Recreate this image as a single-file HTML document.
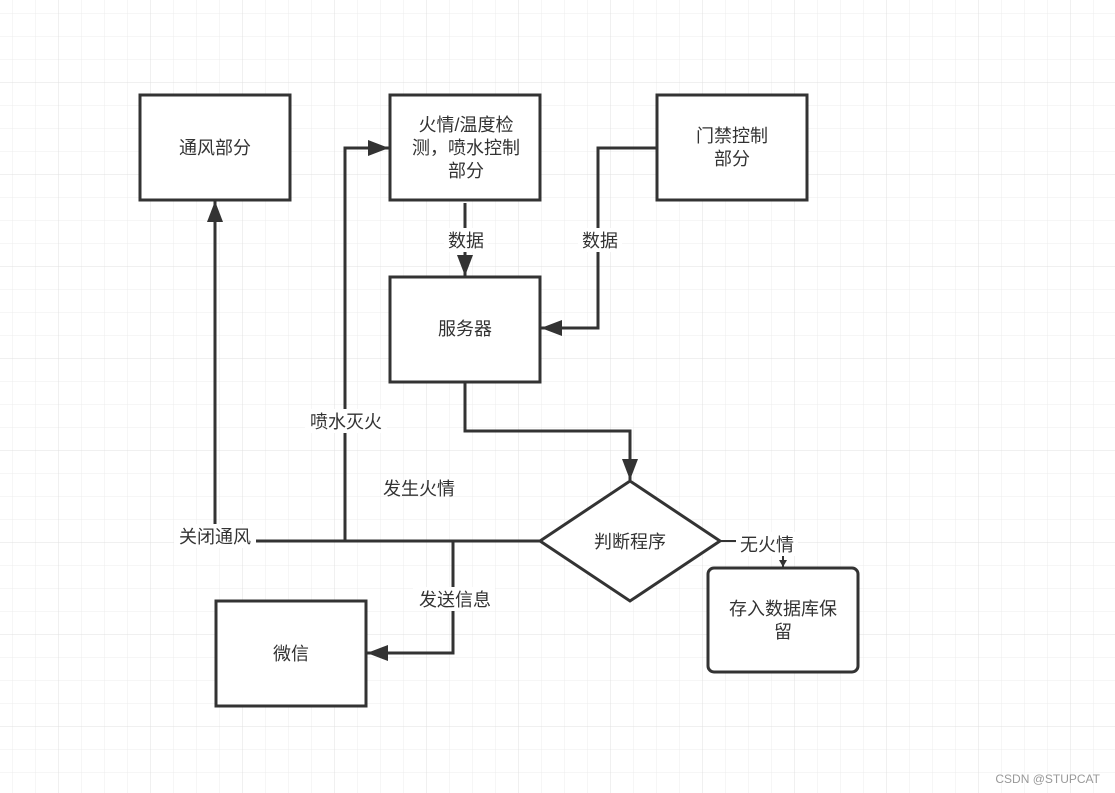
<!DOCTYPE html>
<html><head><meta charset="utf-8"><style>
html,body{margin:0;padding:0;width:1115px;height:793px;overflow:hidden;background:#fff}
svg{display:block}
text{font-family:"Liberation Sans","Noto Sans CJK SC",sans-serif;font-size:18px;fill:#333}
</style></head><body>
<svg width="1115" height="793" xmlns="http://www.w3.org/2000/svg">
<defs>
<pattern id="g" x="12" y="13" width="23" height="23" patternUnits="userSpaceOnUse"><path d="M0 0V23M0 0H23" stroke="#ececec" stroke-width="1" fill="none"/></pattern>
<pattern id="G" x="58" y="82" width="92" height="92" patternUnits="userSpaceOnUse"><path d="M0 0V92M0 0H92" stroke="#e0e0e0" stroke-width="1" fill="none"/></pattern>
<marker id="s" markerWidth="8" markerHeight="8" refX="7" refY="4" orient="auto" markerUnits="userSpaceOnUse"><path d="M0 0L7 4L0 8Z" fill="#333"/></marker>
<marker id="b" markerWidth="22" markerHeight="16" refX="21" refY="8" orient="auto" markerUnits="userSpaceOnUse"><path d="M0 0L21 8L0 16Z" fill="#333"/></marker>
</defs>
<rect width="1115" height="793" fill="url(#g)"/>
<rect width="1115" height="793" fill="url(#G)"/>
<g fill="#fff" stroke="#333" stroke-width="3">
<rect x="140" y="95" width="150" height="105"/>
<rect x="390" y="95" width="150" height="105"/>
<rect x="657" y="95" width="150" height="105"/>
<rect x="390" y="277" width="150" height="105"/>
<rect x="216" y="601" width="150" height="105"/>
<rect x="708" y="568" width="150" height="104" rx="6"/>
<path d="M540 541L630 481L720 541L630 601Z"/>
</g>
<g fill="none" stroke="#333" stroke-width="3">
<path d="M465 203V276" marker-end="url(#b)"/>
<path d="M657 148H598V328H541" marker-end="url(#b)"/>
<path d="M465 382V431H630V480" marker-end="url(#b)"/>
<path d="M540 541H345V148H389" marker-end="url(#b)"/>
<path d="M345 541H215V201" marker-end="url(#b)"/>
<path d="M453 541V653H367" marker-end="url(#b)"/>
<path d="M720 541H783V567" marker-end="url(#s)" stroke-width="2"/>
</g>
<g fill="#fff">
<rect x="444" y="228" width="44" height="24"/>
<rect x="578" y="228" width="44" height="24"/>
<rect x="305" y="409" width="82" height="24"/>
<rect x="174" y="524" width="82" height="24"/>
<rect x="413" y="587" width="82" height="24"/>
<rect x="736" y="532" width="62" height="24"/>
</g>
<g text-anchor="middle">
<text x="215" y="154">通风部分</text>
<text x="466" y="131">火情/温度检</text>
<text x="466" y="154">测，喷水控制</text>
<text x="466" y="177">部分</text>
<text x="732" y="142">门禁控制</text>
<text x="732" y="165">部分</text>
<text x="465" y="335">服务器</text>
<text x="291" y="660">微信</text>
<text x="783" y="615">存入数据库保</text>
<text x="783" y="638">留</text>
<text x="630" y="548">判断程序</text>
<text x="466" y="247">数据</text>
<text x="600" y="247">数据</text>
<text x="346" y="428">喷水灭火</text>
<text x="419" y="495">发生火情</text>
<text x="215" y="543">关闭通风</text>
<text x="455" y="606">发送信息</text>
<text x="767" y="551">无火情</text>
</g>
<text x="1100" y="783" text-anchor="end" style="font-size:12px;fill:#999">CSDN @STUPCAT</text>
</svg>
</body></html>
